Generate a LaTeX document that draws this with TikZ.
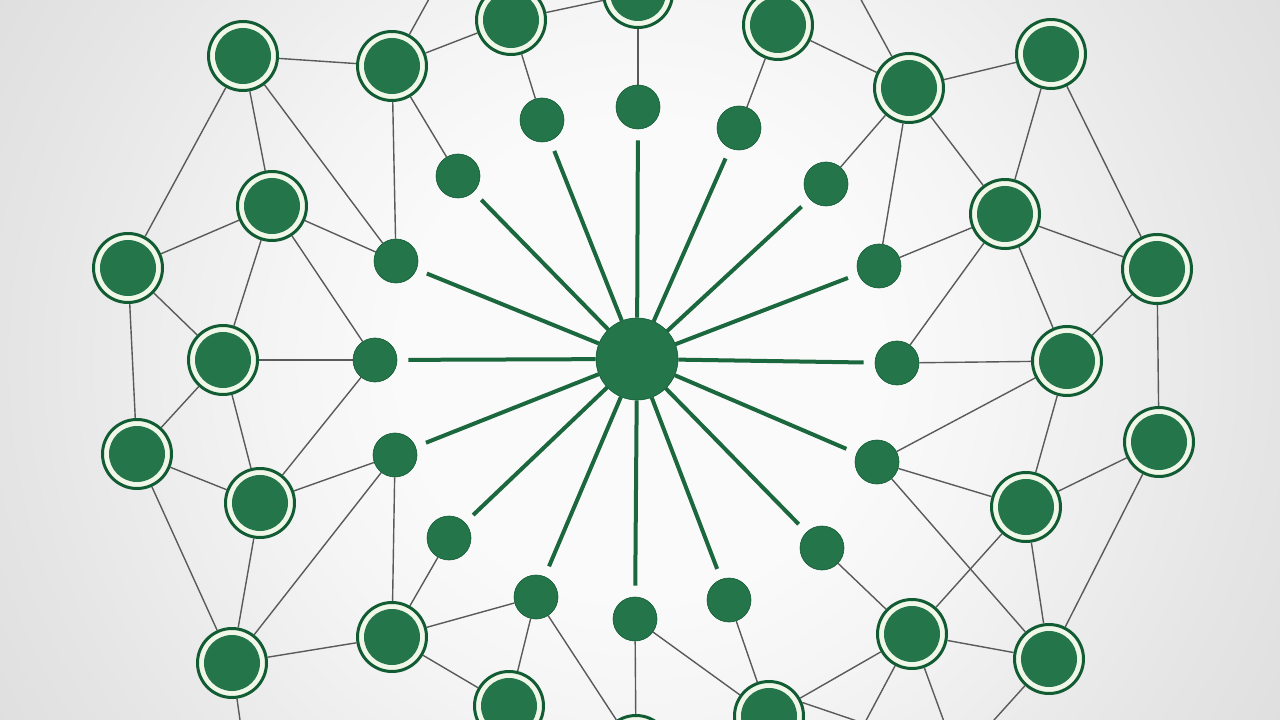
\documentclass[tikz,border=0pt]{standalone}
\usetikzlibrary{backgrounds}
\definecolor{ng}{RGB}{36,117,73}
\definecolor{ngd}{RGB}{18,92,52}
\definecolor{cream}{RGB}{240,246,232}
\definecolor{edgec}{RGB}{90,90,90}
\definecolor{spokec}{RGB}{28,104,62}
\definecolor{bga}{RGB}{250,250,250}
\definecolor{bgb}{RGB}{245,245,245}
\definecolor{bgc}{RGB}{229,229,229}
\definecolor{bgd}{RGB}{223,223,223}
\pgfdeclareradialshading{bgshade}{\pgfpoint{0bp}{0bp}}{color(0bp)=(bga); color(8bp)=(bga); color(12bp)=(bgb); color(21bp)=(bgc); color(25bp)=(bgd); color(50bp)=(bgd)}
\tikzset{
  outernode/.style={circle, minimum size=13.8mm, inner sep=0pt, fill=cream, draw=ngd, line width=0.6mm,
    path picture={\fill[ng] (path picture bounding box.center) circle (5.6mm);}},
  innernode/.style={circle, minimum size=8.8mm, inner sep=0pt, fill=ng, draw=ngd, line width=0.12mm},
  hubnode/.style={circle, minimum size=16.4mm, inner sep=0pt, fill=ng, draw=ngd, line width=0.12mm},
  link/.style={draw=edgec, line width=0.28mm},
  spoke/.style={draw=spokec, line width=0.8mm, shorten >=2.2mm}
}
\begin{document}
\begin{tikzpicture}[x=0.2mm,y=-0.2mm]
\useasboundingbox (0,0) rectangle (1280,720);
\clip (0,0) rectangle (1280,720);
% hub
\node[hubnode] (C) at (637,359) {};
% inner ring
\node[innernode] (I0) at (897,363) {};
\node[innernode] (I1) at (879,266) {};
\node[innernode] (I2) at (826,184) {};
\node[innernode] (I3) at (739,128) {};
\node[innernode] (I4) at (638,107) {};
\node[innernode] (I5) at (542,120) {};
\node[innernode] (I6) at (458,176) {};
\node[innernode] (I7) at (396,261) {};
\node[innernode] (I8) at (375,360) {};
\node[innernode] (I9) at (395,455) {};
\node[innernode] (I10) at (449,538) {};
\node[innernode] (I11) at (536,597) {};
\node[innernode] (I12) at (635,619) {};
\node[innernode] (I13) at (729,600) {};
\node[innernode] (I14) at (822,548) {};
\node[innernode] (I15) at (877,462) {};
% outer nodes
\node[outernode] (Oa) at (243,56) {};
\node[outernode] (Ob) at (392,66) {};
\node[outernode] (Oc) at (511,20) {};
\node[outernode] (Od) at (638,-7) {};
\node[outernode] (Oe) at (778,25) {};
\node[outernode] (Of) at (909,88) {};
\node[outernode] (Og) at (1051,54) {};
\node[outernode] (Oh) at (1005,214) {};
\node[outernode] (Oi) at (1157,269) {};
\node[outernode] (Oj) at (1067,361) {};
\node[outernode] (Ok) at (1159,442) {};
\node[outernode] (Ol) at (1026,507) {};
\node[outernode] (Om) at (912,634) {};
\node[outernode] (On) at (1049,659) {};
\node[outernode] (Oo) at (769,716) {};
\node[outernode] (Op) at (636,750) {};
\node[outernode] (Oq) at (509,706) {};
\node[outernode] (Or) at (392,637) {};
\node[outernode] (Os) at (232,663) {};
\node[outernode] (Ot) at (260,503) {};
\node[outernode] (Ou) at (137,454) {};
\node[outernode] (Ov) at (223,360) {};
\node[outernode] (Ow) at (128,268) {};
\node[outernode] (Ox) at (272,206) {};
% off-picture ends
\coordinate (offB) at (456,-50);
\coordinate (offF) at (834,-50);
\coordinate (offMN) at (958,760);
\coordinate (offM) at (845,760);
\coordinate (offO) at (913,740);
\coordinate (offS) at (247,770);
\begin{scope}[on background layer]
  \clip (0,0) rectangle (1280,720);
  \fill[bgd] (0,0) rectangle (1280,720);
  \shade[shading=bgshade] (640,360) circle (740);
  % spokes
  \foreach \i in {0,...,15} { \draw[spoke] (C) -- (I\i); }
  % links
  \foreach \a/\b in {Oa/Ob, Oa/Ow, Oa/Ox, Oa/I7,
    Ob/I7, Ob/Oc, Ob/I6, Ob/offB,
    Oc/Od, Oc/I5, Od/I4,
    Oe/I3, Oe/Of,
    Of/offF, Of/Og, Of/I2, Of/I1, Of/Oh,
    Og/Oh, Og/Oi,
    Oh/I1, Oh/Oi, Oh/I0, Oh/Oj,
    Oi/Oj, Oi/Ok,
    Oj/I0, Oj/I15, Oj/Ol,
    Ok/Ol, Ok/On,
    Ol/I15, Ol/Om, Ol/On,
    Om/I14, Om/On, Om/Oo, Om/offM, Om/offMN,
    On/I15, On/offMN,
    Oo/I12, Oo/I13,
    Op/I11, Op/I12,
    Oq/I11, Oq/Or,
    Or/I11, Or/I10, Or/I9, Or/Os,
    Os/I9, Os/Ot, Os/Ou, Os/offS,
    Ot/I9, Ot/I8, Ot/Ov, Ot/Ou,
    Ou/Ov, Ou/Ow,
    Ov/I8, Ov/Ox, Ov/Ow,
    Ow/Ox,
    Ox/I7, Ox/I8}
    { \draw[link] (\a) -- (\b); }
  \draw[link] (Oo.22) -- (offO);
\end{scope}
\end{tikzpicture}
\end{document}
